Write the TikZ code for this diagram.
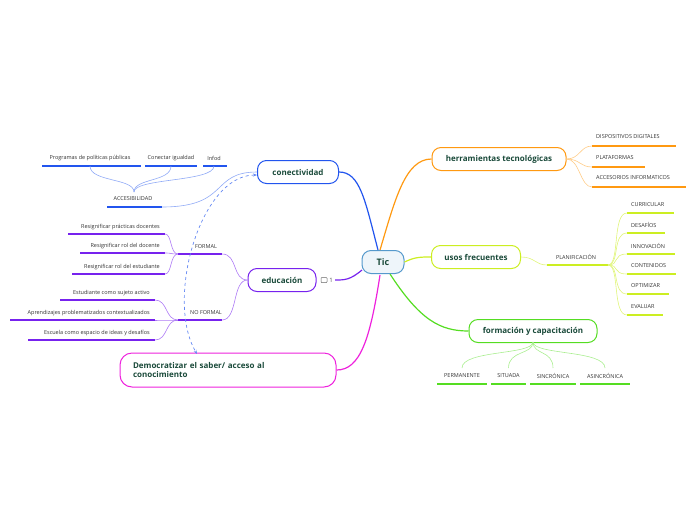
\documentclass[tikz,border=0pt]{standalone}
\usepackage{fontspec}
\setmainfont{Open Sans}
\usetikzlibrary{arrows.meta}
\definecolor{cBlue}{HTML}{2255EE}
\definecolor{cOr}{HTML}{FF9911}
\definecolor{cYel}{HTML}{CCEE22}
\definecolor{cGr}{HTML}{55DD22}
\definecolor{cPur}{HTML}{7722EE}
\definecolor{cMag}{HTML}{EE22DD}
\definecolor{cTic}{HTML}{5599CC}
\definecolor{tdark}{HTML}{1A4A3A}
\tikzset{
 main/.style={draw=#1,line width=1pt,rounded corners=9pt,fill=white,text=tdark,font=\fontsize{8}{9}\selectfont\bfseries,minimum height=23pt,inner xsep=10pt},
 leaf/.style={font=\fontsize{5.5}{6}\selectfont,text=black!80,inner sep=1pt},
 ul/.style={draw=#1,line width=1.6pt},
 br/.style={draw=#1,line width=0.6pt},
}
\begin{document}
\begin{tikzpicture}[x=1pt,y=-1pt]
\useasboundingbox (0,0) rectangle (696,520);
% main nodes
\node[main=cTic,fill=cTic!10,minimum width=42pt,font=\fontsize{9}{10}\selectfont\bfseries] (tic) at (383,262) {Tic};
\node[main=cOr,minimum width=134pt] (her) at (499,159) {herramientas tecnológicas};
\node[main=cYel,minimum width=89pt] (uso) at (476,257) {usos frecuentes};
\node[main=cGr,minimum width=128pt] (for) at (533,331) {formación y capacitación};
\node[main=cBlue,minimum width=81pt] (con) at (298,172) {conectividad};
\node[main=cPur,minimum width=68pt] (edu) at (282,280) {educación};
\node[main=cMag,minimum width=216pt,minimum height=34pt,rounded corners=12pt,align=left,text width=190pt] (dem) at (228,370) {Democratizar el saber/ acceso al\\conocimiento};
% main branches
\draw[cOr,line width=1.2pt] (380,250) .. controls (395,200) and (405,159) .. (her.west);
\draw[cBlue,line width=1.2pt] (378,250) .. controls (365,200) and (360,172) .. (con.east);
\draw[cYel,line width=1.2pt] (tic.east) .. controls (415,257) and (420,257) .. (uso.west);
\draw[cGr,line width=1.2pt] (390,274) .. controls (420,320) and (440,331) .. (for.west);
\draw[cMag,line width=1.2pt] (380,275) .. controls (370,340) and (360,370) .. (dem.east);
\draw[cPur,line width=1.2pt] (362,270) .. controls (350,280) and (345,280) .. (335,280);
\coordinate (ic) at (324,280);
\draw[black!60,line width=0.5pt,rounded corners=0.8pt] ([shift={(-3,-2.5)}]ic) rectangle ([shift={(3,2.5)}]ic);
\node[font=\fontsize{6}{7}\selectfont,text=black!70,inner sep=0pt] (cm) at (331,280) {1};
% herramientas leaves
\foreach \t/\y/\e in {DISPOSITIVOS DIGITALES/137/676, PLATAFORMAS/158/645, ACCESORIOS INFORMATICOS/178/686}{
 \node[leaf,anchor=west] at (595,\y) {\t};
 \draw[ul=cOr] (592,\y+9) -- (\e,\y+9);
 \draw[br=cOr!50] (her.east) .. controls (580,159) and (580,\y+9) .. (592,\y+9);
}
% usos
\node[leaf] (pla) at (576,257) {PLANIFICACIÓN};
\draw[ul=cYel] (547,265) -- (608,265);
\draw[br=cYel!60] (uso.east) .. controls (535,257) and (535,265) .. (547,265);
\foreach \t/\y/\e in {CURRICULAR/205/674, DESAFÍOS/225/665, INNOVACIÓN/246/675, CONTENIDOS/266/676, OPTIMIZAR/286/669, EVALUAR/307/663}{
 \node[leaf,anchor=west] at (630,\y) {\t};
 \draw[ul=cYel] (627,\y+8) -- (\e,\y+8);
 \draw[br=cYel!60] (608,265) .. controls (620,265) and (612,\y+8) .. (627,\y+8);
}
% formacion
\foreach \t/\a/\b in {PERMANENTE/437/487, SITUADA/491/526, SINCRÓNICA/530/576, ASINCRÓNICA/580/630}{
 \node[leaf] at ({(\a+\b)/2},376) {\t};
 \draw[ul=cGr] (\a,384) -- (\b,384);
 \draw[br=cGr!50] (533,342) .. controls (533,355) and ({(\a+\b)/2},350) .. ({(\a+\b)/2},368);
}
% conectividad
\node[leaf] (acc) at (133,199) {ACCESIBILIDAD};
\draw[ul=cBlue] (107,207) -- (162,207);
\draw[br=cBlue!50] (162,207) .. controls (230,207) and (210,172) .. (con.west);
\foreach \t/\x/\a/\b in {Programas de políticas públicas/90/42/141, Conectar igualdad/171/145/197, Infod/214/203/227}{
 \node[leaf] at (\x,158) {\t};
 \draw[ul=cBlue] (\a,166) -- (\b,166);
 \draw[br=cBlue!50] (134,192) .. controls (134,178) and (\x,182) .. (\x,166);
}
% educacion
\node[leaf] at (206,247) {FORMAL};
\draw[ul=cPur] (178,254) -- (222,254);
\node[leaf] at (206,313) {NO FORMAL};
\draw[ul=cPur] (178,320) -- (222,320);
\draw[br=cPur!60] (edu.west) .. controls (232,280) and (238,254) .. (222,254);
\draw[br=cPur!60] (edu.west) .. controls (232,280) and (238,320) .. (222,320);
\foreach \t/\y/\a in {Resignificar prácticas docentes/227/68, Resignificar rol del docente/246/80, Resignificar rol del estudiante/267/72}{
 \node[leaf,anchor=east] at (161,\y) {\t};
 \draw[ul=cPur] (\a,\y+7) -- (165,\y+7);
 \draw[br=cPur!60] (178,254) .. controls (170,254) and (172,\y+7) .. (165,\y+7);
}
\foreach \t/\y/\a in {Estudiante como sujeto activo/293/60, Aprendizajes problematizados contextualizados/313/10, Escuela como espacio de ideas y desafíos/333/28}{
 \node[leaf,anchor=east] at (151,\y) {\t};
 \draw[ul=cPur] (\a,\y+7) -- (155,\y+7);
 \draw[br=cPur!60] (178,320) .. controls (165,320) and (168,\y+7) .. (155,\y+7);
}
% dashed relation
\draw[cBlue!70,dashed,line width=0.7pt,{Stealth[length=4pt]}-{Stealth[length=4pt]}] ([yshift=-3pt]con.west) .. controls (200,175) and (165,300) .. (197,354);
\end{tikzpicture}
\end{document}
